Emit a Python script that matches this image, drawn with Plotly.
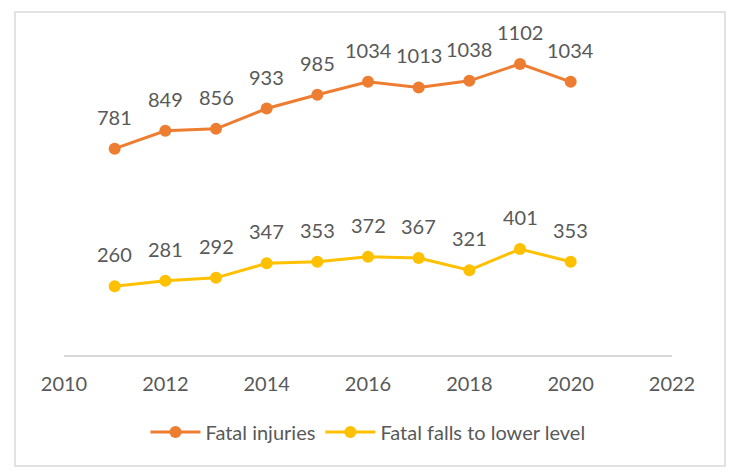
import plotly.graph_objects as go

years = [2011, 2012, 2013, 2014, 2015, 2016, 2017, 2018, 2019, 2020]
fatal_injuries = [781, 849, 856, 933, 985, 1034, 1013, 1038, 1102, 1034]
fatal_falls = [260, 281, 292, 347, 353, 372, 367, 321, 401, 353]
tick_vals = [2010, 2012, 2014, 2016, 2018, 2020, 2022]

ORANGE = "#ED7D31"
YELLOW = "#FFC000"
TXT = "#595959"
FONT = "Lato, Open Sans, sans-serif"

fig = go.Figure()
for name, vals, col in [("Fatal injuries", fatal_injuries, ORANGE),
                        ("Fatal falls to lower level", fatal_falls, YELLOW)]:
    fig.add_trace(go.Scatter(x=years, y=vals, name=name, mode="lines+markers",
                             line=dict(color=col, width=3),
                             marker=dict(color=col, size=12)))
    for xv, yv in zip(years, vals):
        fig.add_annotation(x=xv, y=yv, text=str(yv), showarrow=False,
                           yshift=32, font=dict(size=20, color=TXT, family=FONT))

fig.add_shape(type="rect", xref="paper", yref="paper",
              x0=-0.0806, x1=1.0872, y0=-0.350, y1=1.082,
              line=dict(color="#D9D9D9", width=1.5))

fig.update_layout(
    width=734, height=472,
    margin=dict(l=64, r=62, t=38, b=117),
    paper_bgcolor="white", plot_bgcolor="white",
    font=dict(family=FONT, color=TXT, size=20),
    showlegend=True,
    legend=dict(orientation="h", x=0.5, xanchor="center", y=-0.243, yanchor="middle",
                font=dict(size=20, color=TXT, family=FONT), itemwidth=50),
    xaxis=dict(range=[2010, 2022], tickvals=tick_vals, showgrid=False, zeroline=False,
               showline=True, linecolor="#D9D9D9", linewidth=1.5,
               tickfont=dict(size=20, color=TXT), ticklabelstandoff=10),
    yaxis=dict(range=[0, 1200], visible=False),
)

fig.write_html("out.html")
